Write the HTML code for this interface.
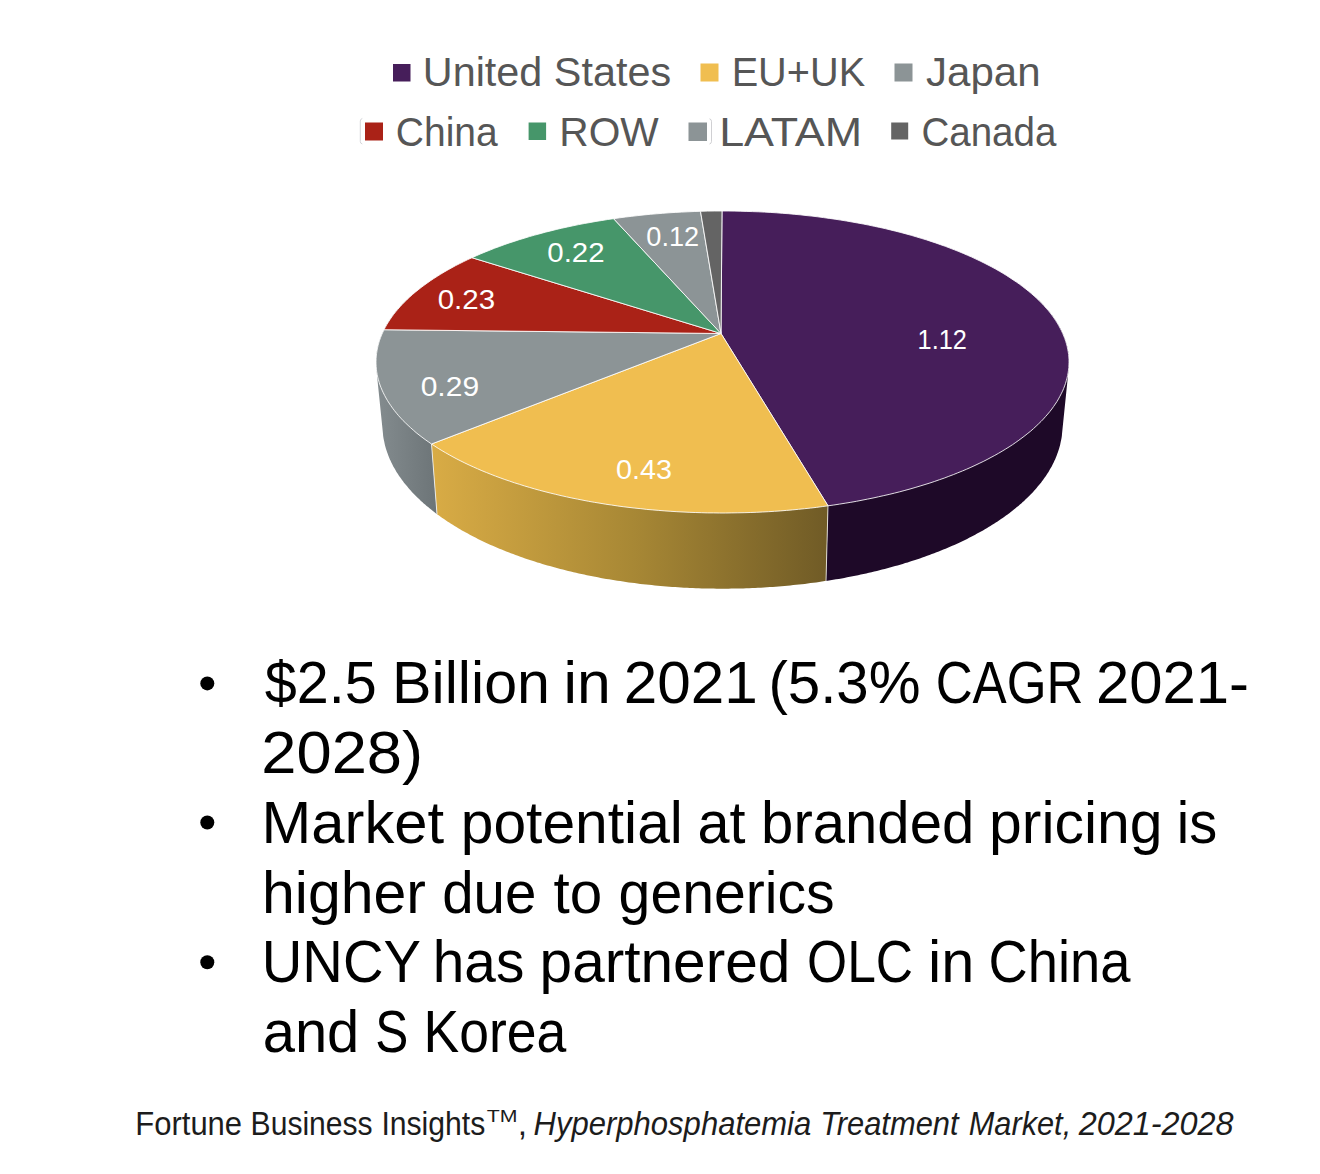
<!DOCTYPE html>
<html><head><meta charset="utf-8"><title>Hyperphosphatemia Treatment Market</title>
<style>html,body{margin:0;padding:0;background:#fff}svg{display:block}text{font-family:"Liberation Sans",sans-serif}</style></head>
<body><svg width="1320" height="1174" viewBox="0 0 1320 1174">
<defs>
<linearGradient id="gEU" gradientUnits="userSpaceOnUse" x1="435" y1="0" x2="828" y2="0"><stop offset="0" stop-color="#d8ab45"/><stop offset=".5" stop-color="#a88835"/><stop offset="1" stop-color="#705b26"/></linearGradient>
<linearGradient id="gJP" gradientUnits="userSpaceOnUse" x1="376" y1="0" x2="438" y2="0"><stop offset="0" stop-color="#848c8f"/><stop offset="1" stop-color="#6c7477"/></linearGradient>
</defs>
<rect width="1320" height="1174" fill="#fff"/>
<rect x="393.0" y="64.0" width="17.5" height="17.5" fill="#461e5a"/>
<rect x="700.5" y="63.5" width="18.0" height="18.0" fill="#f0be50"/>
<rect x="894.5" y="63.5" width="18.0" height="18.0" fill="#8c9496"/>
<rect x="365.0" y="122.5" width="18.0" height="18.0" fill="#aa2217"/>
<rect x="528.6" y="122.5" width="17.5" height="17.5" fill="#46966a"/>
<rect x="688.5" y="122.5" width="18.5" height="18.5" fill="#8c9496"/>
<rect x="891.2" y="122.5" width="17.0" height="17.0" fill="#646464"/>
<path d="M362.3 118.5 Q360.3 119 360.3 121 V141.5 Q360.3 143.5 362.3 144" fill="none" stroke="#c9ccd0" stroke-width=".8"/>
<path d="M709.5 118.8 Q711.5 119.3 711.5 121.3 V141.5 Q711.5 143.5 709.5 144" fill="none" stroke="#c4c4c8" stroke-width=".8"/>
<clipPath id="cUS"><polygon points="833.4,300 1320,300 1320,700 822.9,700"/></clipPath>
<clipPath id="cEU"><polygon points="420.3,300 833.4,300 822.9,700 451.4,700"/></clipPath>
<clipPath id="cJP"><polygon points="0,300 420.3,300 451.4,700 0,700"/></clipPath>
<polygon points="376.0,362.0 376.0,360.7 376.1,359.4 376.1,358.0 376.2,356.7 376.3,355.4 376.5,354.1 376.6,352.8 376.8,351.5 377.1,350.2 377.3,348.8 377.6,347.5 377.9,346.2 378.2,344.9 378.6,343.6 379.0,342.3 379.4,341.0 379.8,339.7 380.3,338.4 380.8,337.1 381.3,335.8 381.8,334.5 382.4,333.2 383.0,331.9 383.6,330.6 384.2,329.3 384.9,328.0 385.6,326.7 386.3,325.5 387.0,324.2 387.8,322.9 388.6,321.6 389.4,320.4 390.3,319.1 391.1,317.9 392.0,316.6 393.0,315.3 393.9,314.1 394.9,312.8 395.9,311.6 396.9,310.4 397.9,309.1 399.0,307.9 400.1,306.7 401.2,305.4 402.4,304.2 403.5,303.0 404.7,301.8 406.0,300.6 407.2,299.4 408.5,298.2 409.8,297.0 411.1,295.8 412.4,294.6 413.8,293.4 415.2,292.3 416.6,291.1 418.0,289.9 419.4,288.8 420.9,287.6 422.4,286.5 423.9,285.4 425.5,284.2 427.1,283.1 428.7,282.0 430.3,280.9 431.9,279.8 433.6,278.7 435.2,277.6 436.9,276.5 438.7,275.4 440.4,274.3 442.2,273.2 444.0,272.2 445.8,271.1 447.6,270.1 449.5,269.0 451.3,268.0 453.2,267.0 455.1,266.0 457.1,264.9 459.0,263.9 461.0,262.9 463.0,261.9 465.0,261.0 467.0,260.0 469.1,259.0 471.2,258.1 473.2,257.1 475.4,256.2 477.5,255.2 479.6,254.3 481.8,253.4 484.0,252.5 486.2,251.6 488.4,250.7 490.6,249.8 492.9,248.9 495.2,248.0 497.5,247.2 499.8,246.3 502.1,245.5 504.4,244.7 506.8,243.8 509.2,243.0 511.6,242.2 514.0,241.4 516.4,240.6 518.8,239.8 521.3,239.1 523.8,238.3 526.2,237.6 528.7,236.8 531.3,236.1 533.8,235.4 536.3,234.6 538.9,233.9 541.5,233.3 544.0,232.6 546.6,231.9 549.2,231.2 551.9,230.6 554.5,229.9 557.2,229.3 559.8,228.7 562.5,228.1 565.2,227.5 567.9,226.9 570.6,226.3 573.3,225.7 576.1,225.1 578.8,224.6 581.6,224.1 584.3,223.5 587.1,223.0 589.9,222.5 592.7,222.0 595.5,221.5 598.3,221.0 601.2,220.6 604.0,220.1 606.8,219.7 609.7,219.2 612.6,218.8 615.4,218.4 618.3,218.0 621.2,217.6 624.1,217.2 627.0,216.8 629.9,216.5 632.8,216.1 635.7,215.8 638.7,215.5 641.6,215.2 644.6,214.9 647.5,214.6 650.5,214.3 653.4,214.0 656.4,213.8 659.4,213.5 662.3,213.3 665.3,213.1 668.3,212.9 671.3,212.7 674.3,212.5 677.3,212.3 680.3,212.1 683.3,212.0 686.3,211.8 689.3,211.7 692.3,211.6 695.3,211.5 698.3,211.4 701.3,211.3 704.4,211.2 707.4,211.1 710.4,211.1 713.4,211.1 716.5,211.0 719.5,211.0 722.5,211.0 725.5,211.0 728.5,211.0 731.6,211.1 734.6,211.1 737.6,211.1 740.6,211.2 743.7,211.3 746.7,211.4 749.7,211.5 752.7,211.6 755.7,211.7 758.7,211.8 761.7,212.0 764.7,212.1 767.7,212.3 770.7,212.5 773.7,212.7 776.7,212.9 779.7,213.1 782.7,213.3 785.6,213.5 788.6,213.8 791.6,214.0 794.5,214.3 797.5,214.6 800.4,214.9 803.4,215.2 806.3,215.5 809.3,215.8 812.2,216.1 815.1,216.5 818.0,216.8 820.9,217.2 823.8,217.6 826.7,218.0 829.6,218.4 832.4,218.8 835.3,219.2 838.2,219.7 841.0,220.1 843.8,220.6 846.7,221.0 849.5,221.5 852.3,222.0 855.1,222.5 857.9,223.0 860.7,223.5 863.4,224.1 866.2,224.6 868.9,225.1 871.7,225.7 874.4,226.3 877.1,226.9 879.8,227.5 882.5,228.1 885.2,228.7 887.8,229.3 890.5,229.9 893.1,230.6 895.8,231.2 898.4,231.9 901.0,232.6 903.5,233.3 906.1,233.9 908.7,234.6 911.2,235.4 913.7,236.1 916.3,236.8 918.8,237.6 921.2,238.3 923.7,239.1 926.2,239.8 928.6,240.6 931.0,241.4 933.4,242.2 935.8,243.0 938.2,243.8 940.6,244.7 942.9,245.5 945.2,246.3 947.5,247.2 949.8,248.0 952.1,248.9 954.4,249.8 956.6,250.7 958.8,251.6 961.0,252.5 963.2,253.4 965.4,254.3 967.5,255.2 969.6,256.2 971.8,257.1 973.8,258.1 975.9,259.0 978.0,260.0 980.0,261.0 982.0,261.9 984.0,262.9 986.0,263.9 987.9,264.9 989.9,266.0 991.8,267.0 993.7,268.0 995.5,269.0 997.4,270.1 999.2,271.1 1001.0,272.2 1002.8,273.2 1004.6,274.3 1006.3,275.4 1008.1,276.5 1009.8,277.6 1011.4,278.7 1013.1,279.8 1014.7,280.9 1016.3,282.0 1017.9,283.1 1019.5,284.2 1021.1,285.4 1022.6,286.5 1024.1,287.6 1025.6,288.8 1027.0,289.9 1028.4,291.1 1029.8,292.3 1031.2,293.4 1032.6,294.6 1033.9,295.8 1035.2,297.0 1036.5,298.2 1037.8,299.4 1039.0,300.6 1040.3,301.8 1041.5,303.0 1042.6,304.2 1043.8,305.4 1044.9,306.7 1046.0,307.9 1047.1,309.1 1048.1,310.4 1049.1,311.6 1050.1,312.8 1051.1,314.1 1052.0,315.3 1053.0,316.6 1053.9,317.9 1054.7,319.1 1055.6,320.4 1056.4,321.6 1057.2,322.9 1058.0,324.2 1058.7,325.5 1059.4,326.7 1060.1,328.0 1060.8,329.3 1061.4,330.6 1062.0,331.9 1062.6,333.2 1063.2,334.5 1063.7,335.8 1064.2,337.1 1064.7,338.4 1065.2,339.7 1065.6,341.0 1066.0,342.3 1066.4,343.6 1066.8,344.9 1067.1,346.2 1067.4,347.5 1067.7,348.8 1067.9,350.2 1068.2,351.5 1068.4,352.8 1068.5,354.1 1068.7,355.4 1068.8,356.7 1068.9,358.0 1068.9,359.4 1069.0,360.7 1069.0,362.0 1069.0,362.0 1069.0,363.3 1068.9,364.6 1068.9,366.0 1068.8,367.3 1068.7,368.6 1062.0,434.0 1061.9,435.5 1061.7,436.9 1061.5,438.3 1061.2,439.7 1060.9,441.1 1060.6,442.6 1060.3,444.0 1060.0,445.4 1059.6,446.8 1059.2,448.2 1058.8,449.6 1058.3,451.0 1057.8,452.4 1057.3,453.8 1056.8,455.2 1056.3,456.6 1055.7,458.0 1055.1,459.4 1054.4,460.8 1053.8,462.2 1053.1,463.6 1052.4,465.0 1051.7,466.4 1050.9,467.7 1050.1,469.1 1049.3,470.5 1048.5,471.9 1047.6,473.2 1046.8,474.6 1045.9,475.9 1044.9,477.3 1044.0,478.6 1043.0,480.0 1042.0,481.3 1041.0,482.7 1039.9,484.0 1038.8,485.3 1037.7,486.6 1036.6,488.0 1035.5,489.3 1034.3,490.6 1033.1,491.9 1031.9,493.2 1030.6,494.5 1029.4,495.8 1028.1,497.0 1026.8,498.3 1025.4,499.6 1024.1,500.9 1022.7,502.1 1021.3,503.4 1019.9,504.6 1018.4,505.9 1016.9,507.1 1015.5,508.3 1013.9,509.6 1012.4,510.8 1010.8,512.0 1009.3,513.2 1007.6,514.4 1006.0,515.6 1004.4,516.8 1002.7,517.9 1001.0,519.1 999.3,520.3 997.6,521.4 995.8,522.6 994.0,523.7 992.2,524.8 990.4,526.0 988.6,527.1 986.7,528.2 984.9,529.3 983.0,530.4 981.0,531.5 979.1,532.6 977.1,533.6 975.2,534.7 973.2,535.8 971.2,536.8 969.1,537.8 967.1,538.9 965.0,539.9 962.9,540.9 960.8,541.9 958.7,542.9 956.5,543.9 954.4,544.9 952.2,545.8 950.0,546.8 947.8,547.7 945.6,548.7 943.3,549.6 941.0,550.5 938.8,551.4 936.5,552.3 934.2,553.2 931.8,554.1 929.5,555.0 927.1,555.8 924.7,556.7 922.3,557.5 919.9,558.4 917.5,559.2 915.1,560.0 912.6,560.8 910.2,561.6 907.7,562.4 905.2,563.1 902.7,563.9 900.1,564.7 897.6,565.4 895.1,566.1 892.5,566.8 889.9,567.5 887.3,568.2 884.7,568.9 882.1,569.6 879.5,570.3 876.9,570.9 874.2,571.6 871.5,572.2 868.9,572.8 866.2,573.4 863.5,574.0 860.8,574.6 858.1,575.2 855.3,575.7 852.6,576.3 849.9,576.8 847.1,577.3 844.3,577.9 841.6,578.4 838.8,578.9 836.0,579.3 833.2,579.8 830.4,580.3 827.6,580.7 824.7,581.1 821.9,581.6 819.1,582.0 816.2,582.4 813.4,582.8 810.5,583.1 807.6,583.5 804.8,583.9 801.9,584.2 799.0,584.5 796.1,584.8 793.2,585.1 790.3,585.4 787.4,585.7 784.5,586.0 781.5,586.2 778.6,586.5 775.7,586.7 772.8,586.9 769.8,587.1 766.9,587.3 763.9,587.5 761.0,587.7 758.0,587.8 755.1,587.9 752.1,588.1 749.2,588.2 746.2,588.3 743.3,588.4 740.3,588.5 737.3,588.5 734.4,588.6 731.4,588.6 728.4,588.7 725.5,588.7 722.5,588.7 719.5,588.7 716.6,588.7 713.6,588.6 710.6,588.6 707.7,588.5 704.7,588.5 701.7,588.4 698.8,588.3 695.8,588.2 692.9,588.1 689.9,587.9 687.0,587.8 684.0,587.7 681.1,587.5 678.1,587.3 675.2,587.1 672.2,586.9 669.3,586.7 666.4,586.5 663.5,586.2 660.5,586.0 657.6,585.7 654.7,585.4 651.8,585.1 648.9,584.8 646.0,584.5 643.1,584.2 640.2,583.9 637.4,583.5 634.5,583.1 631.6,582.8 628.8,582.4 625.9,582.0 623.1,581.6 620.3,581.1 617.4,580.7 614.6,580.3 611.8,579.8 609.0,579.3 606.2,578.9 603.4,578.4 600.7,577.9 597.9,577.3 595.1,576.8 592.4,576.3 589.7,575.7 586.9,575.2 584.2,574.6 581.5,574.0 578.8,573.4 576.1,572.8 573.5,572.2 570.8,571.6 568.1,570.9 565.5,570.3 562.9,569.6 560.3,568.9 557.7,568.2 555.1,567.5 552.5,566.8 549.9,566.1 547.4,565.4 544.9,564.7 542.3,563.9 539.8,563.1 537.3,562.4 534.8,561.6 532.4,560.8 529.9,560.0 527.5,559.2 525.1,558.4 522.7,557.5 520.3,556.7 517.9,555.8 515.5,555.0 513.2,554.1 510.8,553.2 508.5,552.3 506.2,551.4 504.0,550.5 501.7,549.6 499.4,548.7 497.2,547.7 495.0,546.8 492.8,545.8 490.6,544.9 488.5,543.9 486.3,542.9 484.2,541.9 482.1,540.9 480.0,539.9 477.9,538.9 475.9,537.8 473.8,536.8 471.8,535.8 469.8,534.7 467.9,533.6 465.9,532.6 464.0,531.5 462.0,530.4 460.1,529.3 458.3,528.2 456.4,527.1 454.6,526.0 452.8,524.8 451.0,523.7 449.2,522.6 447.4,521.4 445.7,520.3 444.0,519.1 442.3,517.9 440.6,516.8 439.0,515.6 437.4,514.4 435.7,513.2 434.2,512.0 432.6,510.8 431.1,509.6 429.5,508.3 428.1,507.1 426.6,505.9 425.1,504.6 423.7,503.4 422.3,502.1 420.9,500.9 419.6,499.6 418.2,498.3 416.9,497.0 415.6,495.8 414.4,494.5 413.1,493.2 411.9,491.9 410.7,490.6 409.5,489.3 408.4,488.0 407.3,486.6 406.2,485.3 405.1,484.0 404.0,482.7 403.0,481.3 402.0,480.0 401.0,478.6 400.1,477.3 399.1,475.9 398.2,474.6 397.4,473.2 396.5,471.9 395.7,470.5 394.9,469.1 394.1,467.7 393.3,466.4 392.6,465.0 391.9,463.6 391.2,462.2 390.6,460.8 389.9,459.4 389.3,458.0 388.7,456.6 388.2,455.2 387.7,453.8 387.2,452.4 386.7,451.0 386.2,449.6 385.8,448.2 385.4,446.8 385.0,445.4 384.7,444.0 384.4,442.6 384.1,441.1 383.8,439.7 383.5,438.3 383.3,436.9 383.1,435.5 383.0,434.0 376.3,368.6 376.2,367.3 376.1,366.0 376.1,364.6 376.0,363.3" fill="#1e0928" clip-path="url(#cUS)"/>
<polygon points="376.0,362.0 376.0,360.7 376.1,359.4 376.1,358.0 376.2,356.7 376.3,355.4 376.5,354.1 376.6,352.8 376.8,351.5 377.1,350.2 377.3,348.8 377.6,347.5 377.9,346.2 378.2,344.9 378.6,343.6 379.0,342.3 379.4,341.0 379.8,339.7 380.3,338.4 380.8,337.1 381.3,335.8 381.8,334.5 382.4,333.2 383.0,331.9 383.6,330.6 384.2,329.3 384.9,328.0 385.6,326.7 386.3,325.5 387.0,324.2 387.8,322.9 388.6,321.6 389.4,320.4 390.3,319.1 391.1,317.9 392.0,316.6 393.0,315.3 393.9,314.1 394.9,312.8 395.9,311.6 396.9,310.4 397.9,309.1 399.0,307.9 400.1,306.7 401.2,305.4 402.4,304.2 403.5,303.0 404.7,301.8 406.0,300.6 407.2,299.4 408.5,298.2 409.8,297.0 411.1,295.8 412.4,294.6 413.8,293.4 415.2,292.3 416.6,291.1 418.0,289.9 419.4,288.8 420.9,287.6 422.4,286.5 423.9,285.4 425.5,284.2 427.1,283.1 428.7,282.0 430.3,280.9 431.9,279.8 433.6,278.7 435.2,277.6 436.9,276.5 438.7,275.4 440.4,274.3 442.2,273.2 444.0,272.2 445.8,271.1 447.6,270.1 449.5,269.0 451.3,268.0 453.2,267.0 455.1,266.0 457.1,264.9 459.0,263.9 461.0,262.9 463.0,261.9 465.0,261.0 467.0,260.0 469.1,259.0 471.2,258.1 473.2,257.1 475.4,256.2 477.5,255.2 479.6,254.3 481.8,253.4 484.0,252.5 486.2,251.6 488.4,250.7 490.6,249.8 492.9,248.9 495.2,248.0 497.5,247.2 499.8,246.3 502.1,245.5 504.4,244.7 506.8,243.8 509.2,243.0 511.6,242.2 514.0,241.4 516.4,240.6 518.8,239.8 521.3,239.1 523.8,238.3 526.2,237.6 528.7,236.8 531.3,236.1 533.8,235.4 536.3,234.6 538.9,233.9 541.5,233.3 544.0,232.6 546.6,231.9 549.2,231.2 551.9,230.6 554.5,229.9 557.2,229.3 559.8,228.7 562.5,228.1 565.2,227.5 567.9,226.9 570.6,226.3 573.3,225.7 576.1,225.1 578.8,224.6 581.6,224.1 584.3,223.5 587.1,223.0 589.9,222.5 592.7,222.0 595.5,221.5 598.3,221.0 601.2,220.6 604.0,220.1 606.8,219.7 609.7,219.2 612.6,218.8 615.4,218.4 618.3,218.0 621.2,217.6 624.1,217.2 627.0,216.8 629.9,216.5 632.8,216.1 635.7,215.8 638.7,215.5 641.6,215.2 644.6,214.9 647.5,214.6 650.5,214.3 653.4,214.0 656.4,213.8 659.4,213.5 662.3,213.3 665.3,213.1 668.3,212.9 671.3,212.7 674.3,212.5 677.3,212.3 680.3,212.1 683.3,212.0 686.3,211.8 689.3,211.7 692.3,211.6 695.3,211.5 698.3,211.4 701.3,211.3 704.4,211.2 707.4,211.1 710.4,211.1 713.4,211.1 716.5,211.0 719.5,211.0 722.5,211.0 725.5,211.0 728.5,211.0 731.6,211.1 734.6,211.1 737.6,211.1 740.6,211.2 743.7,211.3 746.7,211.4 749.7,211.5 752.7,211.6 755.7,211.7 758.7,211.8 761.7,212.0 764.7,212.1 767.7,212.3 770.7,212.5 773.7,212.7 776.7,212.9 779.7,213.1 782.7,213.3 785.6,213.5 788.6,213.8 791.6,214.0 794.5,214.3 797.5,214.6 800.4,214.9 803.4,215.2 806.3,215.5 809.3,215.8 812.2,216.1 815.1,216.5 818.0,216.8 820.9,217.2 823.8,217.6 826.7,218.0 829.6,218.4 832.4,218.8 835.3,219.2 838.2,219.7 841.0,220.1 843.8,220.6 846.7,221.0 849.5,221.5 852.3,222.0 855.1,222.5 857.9,223.0 860.7,223.5 863.4,224.1 866.2,224.6 868.9,225.1 871.7,225.7 874.4,226.3 877.1,226.9 879.8,227.5 882.5,228.1 885.2,228.7 887.8,229.3 890.5,229.9 893.1,230.6 895.8,231.2 898.4,231.9 901.0,232.6 903.5,233.3 906.1,233.9 908.7,234.6 911.2,235.4 913.7,236.1 916.3,236.8 918.8,237.6 921.2,238.3 923.7,239.1 926.2,239.8 928.6,240.6 931.0,241.4 933.4,242.2 935.8,243.0 938.2,243.8 940.6,244.7 942.9,245.5 945.2,246.3 947.5,247.2 949.8,248.0 952.1,248.9 954.4,249.8 956.6,250.7 958.8,251.6 961.0,252.5 963.2,253.4 965.4,254.3 967.5,255.2 969.6,256.2 971.8,257.1 973.8,258.1 975.9,259.0 978.0,260.0 980.0,261.0 982.0,261.9 984.0,262.9 986.0,263.9 987.9,264.9 989.9,266.0 991.8,267.0 993.7,268.0 995.5,269.0 997.4,270.1 999.2,271.1 1001.0,272.2 1002.8,273.2 1004.6,274.3 1006.3,275.4 1008.1,276.5 1009.8,277.6 1011.4,278.7 1013.1,279.8 1014.7,280.9 1016.3,282.0 1017.9,283.1 1019.5,284.2 1021.1,285.4 1022.6,286.5 1024.1,287.6 1025.6,288.8 1027.0,289.9 1028.4,291.1 1029.8,292.3 1031.2,293.4 1032.6,294.6 1033.9,295.8 1035.2,297.0 1036.5,298.2 1037.8,299.4 1039.0,300.6 1040.3,301.8 1041.5,303.0 1042.6,304.2 1043.8,305.4 1044.9,306.7 1046.0,307.9 1047.1,309.1 1048.1,310.4 1049.1,311.6 1050.1,312.8 1051.1,314.1 1052.0,315.3 1053.0,316.6 1053.9,317.9 1054.7,319.1 1055.6,320.4 1056.4,321.6 1057.2,322.9 1058.0,324.2 1058.7,325.5 1059.4,326.7 1060.1,328.0 1060.8,329.3 1061.4,330.6 1062.0,331.9 1062.6,333.2 1063.2,334.5 1063.7,335.8 1064.2,337.1 1064.7,338.4 1065.2,339.7 1065.6,341.0 1066.0,342.3 1066.4,343.6 1066.8,344.9 1067.1,346.2 1067.4,347.5 1067.7,348.8 1067.9,350.2 1068.2,351.5 1068.4,352.8 1068.5,354.1 1068.7,355.4 1068.8,356.7 1068.9,358.0 1068.9,359.4 1069.0,360.7 1069.0,362.0 1069.0,362.0 1069.0,363.3 1068.9,364.6 1068.9,366.0 1068.8,367.3 1068.7,368.6 1062.0,434.0 1061.9,435.5 1061.7,436.9 1061.5,438.3 1061.2,439.7 1060.9,441.1 1060.6,442.6 1060.3,444.0 1060.0,445.4 1059.6,446.8 1059.2,448.2 1058.8,449.6 1058.3,451.0 1057.8,452.4 1057.3,453.8 1056.8,455.2 1056.3,456.6 1055.7,458.0 1055.1,459.4 1054.4,460.8 1053.8,462.2 1053.1,463.6 1052.4,465.0 1051.7,466.4 1050.9,467.7 1050.1,469.1 1049.3,470.5 1048.5,471.9 1047.6,473.2 1046.8,474.6 1045.9,475.9 1044.9,477.3 1044.0,478.6 1043.0,480.0 1042.0,481.3 1041.0,482.7 1039.9,484.0 1038.8,485.3 1037.7,486.6 1036.6,488.0 1035.5,489.3 1034.3,490.6 1033.1,491.9 1031.9,493.2 1030.6,494.5 1029.4,495.8 1028.1,497.0 1026.8,498.3 1025.4,499.6 1024.1,500.9 1022.7,502.1 1021.3,503.4 1019.9,504.6 1018.4,505.9 1016.9,507.1 1015.5,508.3 1013.9,509.6 1012.4,510.8 1010.8,512.0 1009.3,513.2 1007.6,514.4 1006.0,515.6 1004.4,516.8 1002.7,517.9 1001.0,519.1 999.3,520.3 997.6,521.4 995.8,522.6 994.0,523.7 992.2,524.8 990.4,526.0 988.6,527.1 986.7,528.2 984.9,529.3 983.0,530.4 981.0,531.5 979.1,532.6 977.1,533.6 975.2,534.7 973.2,535.8 971.2,536.8 969.1,537.8 967.1,538.9 965.0,539.9 962.9,540.9 960.8,541.9 958.7,542.9 956.5,543.9 954.4,544.9 952.2,545.8 950.0,546.8 947.8,547.7 945.6,548.7 943.3,549.6 941.0,550.5 938.8,551.4 936.5,552.3 934.2,553.2 931.8,554.1 929.5,555.0 927.1,555.8 924.7,556.7 922.3,557.5 919.9,558.4 917.5,559.2 915.1,560.0 912.6,560.8 910.2,561.6 907.7,562.4 905.2,563.1 902.7,563.9 900.1,564.7 897.6,565.4 895.1,566.1 892.5,566.8 889.9,567.5 887.3,568.2 884.7,568.9 882.1,569.6 879.5,570.3 876.9,570.9 874.2,571.6 871.5,572.2 868.9,572.8 866.2,573.4 863.5,574.0 860.8,574.6 858.1,575.2 855.3,575.7 852.6,576.3 849.9,576.8 847.1,577.3 844.3,577.9 841.6,578.4 838.8,578.9 836.0,579.3 833.2,579.8 830.4,580.3 827.6,580.7 824.7,581.1 821.9,581.6 819.1,582.0 816.2,582.4 813.4,582.8 810.5,583.1 807.6,583.5 804.8,583.9 801.9,584.2 799.0,584.5 796.1,584.8 793.2,585.1 790.3,585.4 787.4,585.7 784.5,586.0 781.5,586.2 778.6,586.5 775.7,586.7 772.8,586.9 769.8,587.1 766.9,587.3 763.9,587.5 761.0,587.7 758.0,587.8 755.1,587.9 752.1,588.1 749.2,588.2 746.2,588.3 743.3,588.4 740.3,588.5 737.3,588.5 734.4,588.6 731.4,588.6 728.4,588.7 725.5,588.7 722.5,588.7 719.5,588.7 716.6,588.7 713.6,588.6 710.6,588.6 707.7,588.5 704.7,588.5 701.7,588.4 698.8,588.3 695.8,588.2 692.9,588.1 689.9,587.9 687.0,587.8 684.0,587.7 681.1,587.5 678.1,587.3 675.2,587.1 672.2,586.9 669.3,586.7 666.4,586.5 663.5,586.2 660.5,586.0 657.6,585.7 654.7,585.4 651.8,585.1 648.9,584.8 646.0,584.5 643.1,584.2 640.2,583.9 637.4,583.5 634.5,583.1 631.6,582.8 628.8,582.4 625.9,582.0 623.1,581.6 620.3,581.1 617.4,580.7 614.6,580.3 611.8,579.8 609.0,579.3 606.2,578.9 603.4,578.4 600.7,577.9 597.9,577.3 595.1,576.8 592.4,576.3 589.7,575.7 586.9,575.2 584.2,574.6 581.5,574.0 578.8,573.4 576.1,572.8 573.5,572.2 570.8,571.6 568.1,570.9 565.5,570.3 562.9,569.6 560.3,568.9 557.7,568.2 555.1,567.5 552.5,566.8 549.9,566.1 547.4,565.4 544.9,564.7 542.3,563.9 539.8,563.1 537.3,562.4 534.8,561.6 532.4,560.8 529.9,560.0 527.5,559.2 525.1,558.4 522.7,557.5 520.3,556.7 517.9,555.8 515.5,555.0 513.2,554.1 510.8,553.2 508.5,552.3 506.2,551.4 504.0,550.5 501.7,549.6 499.4,548.7 497.2,547.7 495.0,546.8 492.8,545.8 490.6,544.9 488.5,543.9 486.3,542.9 484.2,541.9 482.1,540.9 480.0,539.9 477.9,538.9 475.9,537.8 473.8,536.8 471.8,535.8 469.8,534.7 467.9,533.6 465.9,532.6 464.0,531.5 462.0,530.4 460.1,529.3 458.3,528.2 456.4,527.1 454.6,526.0 452.8,524.8 451.0,523.7 449.2,522.6 447.4,521.4 445.7,520.3 444.0,519.1 442.3,517.9 440.6,516.8 439.0,515.6 437.4,514.4 435.7,513.2 434.2,512.0 432.6,510.8 431.1,509.6 429.5,508.3 428.1,507.1 426.6,505.9 425.1,504.6 423.7,503.4 422.3,502.1 420.9,500.9 419.6,499.6 418.2,498.3 416.9,497.0 415.6,495.8 414.4,494.5 413.1,493.2 411.9,491.9 410.7,490.6 409.5,489.3 408.4,488.0 407.3,486.6 406.2,485.3 405.1,484.0 404.0,482.7 403.0,481.3 402.0,480.0 401.0,478.6 400.1,477.3 399.1,475.9 398.2,474.6 397.4,473.2 396.5,471.9 395.7,470.5 394.9,469.1 394.1,467.7 393.3,466.4 392.6,465.0 391.9,463.6 391.2,462.2 390.6,460.8 389.9,459.4 389.3,458.0 388.7,456.6 388.2,455.2 387.7,453.8 387.2,452.4 386.7,451.0 386.2,449.6 385.8,448.2 385.4,446.8 385.0,445.4 384.7,444.0 384.4,442.6 384.1,441.1 383.8,439.7 383.5,438.3 383.3,436.9 383.1,435.5 383.0,434.0 376.3,368.6 376.2,367.3 376.1,366.0 376.1,364.6 376.0,363.3" fill="url(#gEU)" clip-path="url(#cEU)"/>
<polygon points="376.0,362.0 376.0,360.7 376.1,359.4 376.1,358.0 376.2,356.7 376.3,355.4 376.5,354.1 376.6,352.8 376.8,351.5 377.1,350.2 377.3,348.8 377.6,347.5 377.9,346.2 378.2,344.9 378.6,343.6 379.0,342.3 379.4,341.0 379.8,339.7 380.3,338.4 380.8,337.1 381.3,335.8 381.8,334.5 382.4,333.2 383.0,331.9 383.6,330.6 384.2,329.3 384.9,328.0 385.6,326.7 386.3,325.5 387.0,324.2 387.8,322.9 388.6,321.6 389.4,320.4 390.3,319.1 391.1,317.9 392.0,316.6 393.0,315.3 393.9,314.1 394.9,312.8 395.9,311.6 396.9,310.4 397.9,309.1 399.0,307.9 400.1,306.7 401.2,305.4 402.4,304.2 403.5,303.0 404.7,301.8 406.0,300.6 407.2,299.4 408.5,298.2 409.8,297.0 411.1,295.8 412.4,294.6 413.8,293.4 415.2,292.3 416.6,291.1 418.0,289.9 419.4,288.8 420.9,287.6 422.4,286.5 423.9,285.4 425.5,284.2 427.1,283.1 428.7,282.0 430.3,280.9 431.9,279.8 433.6,278.7 435.2,277.6 436.9,276.5 438.7,275.4 440.4,274.3 442.2,273.2 444.0,272.2 445.8,271.1 447.6,270.1 449.5,269.0 451.3,268.0 453.2,267.0 455.1,266.0 457.1,264.9 459.0,263.9 461.0,262.9 463.0,261.9 465.0,261.0 467.0,260.0 469.1,259.0 471.2,258.1 473.2,257.1 475.4,256.2 477.5,255.2 479.6,254.3 481.8,253.4 484.0,252.5 486.2,251.6 488.4,250.7 490.6,249.8 492.9,248.9 495.2,248.0 497.5,247.2 499.8,246.3 502.1,245.5 504.4,244.7 506.8,243.8 509.2,243.0 511.6,242.2 514.0,241.4 516.4,240.6 518.8,239.8 521.3,239.1 523.8,238.3 526.2,237.6 528.7,236.8 531.3,236.1 533.8,235.4 536.3,234.6 538.9,233.9 541.5,233.3 544.0,232.6 546.6,231.9 549.2,231.2 551.9,230.6 554.5,229.9 557.2,229.3 559.8,228.7 562.5,228.1 565.2,227.5 567.9,226.9 570.6,226.3 573.3,225.7 576.1,225.1 578.8,224.6 581.6,224.1 584.3,223.5 587.1,223.0 589.9,222.5 592.7,222.0 595.5,221.5 598.3,221.0 601.2,220.6 604.0,220.1 606.8,219.7 609.7,219.2 612.6,218.8 615.4,218.4 618.3,218.0 621.2,217.6 624.1,217.2 627.0,216.8 629.9,216.5 632.8,216.1 635.7,215.8 638.7,215.5 641.6,215.2 644.6,214.9 647.5,214.6 650.5,214.3 653.4,214.0 656.4,213.8 659.4,213.5 662.3,213.3 665.3,213.1 668.3,212.9 671.3,212.7 674.3,212.5 677.3,212.3 680.3,212.1 683.3,212.0 686.3,211.8 689.3,211.7 692.3,211.6 695.3,211.5 698.3,211.4 701.3,211.3 704.4,211.2 707.4,211.1 710.4,211.1 713.4,211.1 716.5,211.0 719.5,211.0 722.5,211.0 725.5,211.0 728.5,211.0 731.6,211.1 734.6,211.1 737.6,211.1 740.6,211.2 743.7,211.3 746.7,211.4 749.7,211.5 752.7,211.6 755.7,211.7 758.7,211.8 761.7,212.0 764.7,212.1 767.7,212.3 770.7,212.5 773.7,212.7 776.7,212.9 779.7,213.1 782.7,213.3 785.6,213.5 788.6,213.8 791.6,214.0 794.5,214.3 797.5,214.6 800.4,214.9 803.4,215.2 806.3,215.5 809.3,215.8 812.2,216.1 815.1,216.5 818.0,216.8 820.9,217.2 823.8,217.6 826.7,218.0 829.6,218.4 832.4,218.8 835.3,219.2 838.2,219.7 841.0,220.1 843.8,220.6 846.7,221.0 849.5,221.5 852.3,222.0 855.1,222.5 857.9,223.0 860.7,223.5 863.4,224.1 866.2,224.6 868.9,225.1 871.7,225.7 874.4,226.3 877.1,226.9 879.8,227.5 882.5,228.1 885.2,228.7 887.8,229.3 890.5,229.9 893.1,230.6 895.8,231.2 898.4,231.9 901.0,232.6 903.5,233.3 906.1,233.9 908.7,234.6 911.2,235.4 913.7,236.1 916.3,236.8 918.8,237.6 921.2,238.3 923.7,239.1 926.2,239.8 928.6,240.6 931.0,241.4 933.4,242.2 935.8,243.0 938.2,243.8 940.6,244.7 942.9,245.5 945.2,246.3 947.5,247.2 949.8,248.0 952.1,248.9 954.4,249.8 956.6,250.7 958.8,251.6 961.0,252.5 963.2,253.4 965.4,254.3 967.5,255.2 969.6,256.2 971.8,257.1 973.8,258.1 975.9,259.0 978.0,260.0 980.0,261.0 982.0,261.9 984.0,262.9 986.0,263.9 987.9,264.9 989.9,266.0 991.8,267.0 993.7,268.0 995.5,269.0 997.4,270.1 999.2,271.1 1001.0,272.2 1002.8,273.2 1004.6,274.3 1006.3,275.4 1008.1,276.5 1009.8,277.6 1011.4,278.7 1013.1,279.8 1014.7,280.9 1016.3,282.0 1017.9,283.1 1019.5,284.2 1021.1,285.4 1022.6,286.5 1024.1,287.6 1025.6,288.8 1027.0,289.9 1028.4,291.1 1029.8,292.3 1031.2,293.4 1032.6,294.6 1033.9,295.8 1035.2,297.0 1036.5,298.2 1037.8,299.4 1039.0,300.6 1040.3,301.8 1041.5,303.0 1042.6,304.2 1043.8,305.4 1044.9,306.7 1046.0,307.9 1047.1,309.1 1048.1,310.4 1049.1,311.6 1050.1,312.8 1051.1,314.1 1052.0,315.3 1053.0,316.6 1053.9,317.9 1054.7,319.1 1055.6,320.4 1056.4,321.6 1057.2,322.9 1058.0,324.2 1058.7,325.5 1059.4,326.7 1060.1,328.0 1060.8,329.3 1061.4,330.6 1062.0,331.9 1062.6,333.2 1063.2,334.5 1063.7,335.8 1064.2,337.1 1064.7,338.4 1065.2,339.7 1065.6,341.0 1066.0,342.3 1066.4,343.6 1066.8,344.9 1067.1,346.2 1067.4,347.5 1067.7,348.8 1067.9,350.2 1068.2,351.5 1068.4,352.8 1068.5,354.1 1068.7,355.4 1068.8,356.7 1068.9,358.0 1068.9,359.4 1069.0,360.7 1069.0,362.0 1069.0,362.0 1069.0,363.3 1068.9,364.6 1068.9,366.0 1068.8,367.3 1068.7,368.6 1062.0,434.0 1061.9,435.5 1061.7,436.9 1061.5,438.3 1061.2,439.7 1060.9,441.1 1060.6,442.6 1060.3,444.0 1060.0,445.4 1059.6,446.8 1059.2,448.2 1058.8,449.6 1058.3,451.0 1057.8,452.4 1057.3,453.8 1056.8,455.2 1056.3,456.6 1055.7,458.0 1055.1,459.4 1054.4,460.8 1053.8,462.2 1053.1,463.6 1052.4,465.0 1051.7,466.4 1050.9,467.7 1050.1,469.1 1049.3,470.5 1048.5,471.9 1047.6,473.2 1046.8,474.6 1045.9,475.9 1044.9,477.3 1044.0,478.6 1043.0,480.0 1042.0,481.3 1041.0,482.7 1039.9,484.0 1038.8,485.3 1037.7,486.6 1036.6,488.0 1035.5,489.3 1034.3,490.6 1033.1,491.9 1031.9,493.2 1030.6,494.5 1029.4,495.8 1028.1,497.0 1026.8,498.3 1025.4,499.6 1024.1,500.9 1022.7,502.1 1021.3,503.4 1019.9,504.6 1018.4,505.9 1016.9,507.1 1015.5,508.3 1013.9,509.6 1012.4,510.8 1010.8,512.0 1009.3,513.2 1007.6,514.4 1006.0,515.6 1004.4,516.8 1002.7,517.9 1001.0,519.1 999.3,520.3 997.6,521.4 995.8,522.6 994.0,523.7 992.2,524.8 990.4,526.0 988.6,527.1 986.7,528.2 984.9,529.3 983.0,530.4 981.0,531.5 979.1,532.6 977.1,533.6 975.2,534.7 973.2,535.8 971.2,536.8 969.1,537.8 967.1,538.9 965.0,539.9 962.9,540.9 960.8,541.9 958.7,542.9 956.5,543.9 954.4,544.9 952.2,545.8 950.0,546.8 947.8,547.7 945.6,548.7 943.3,549.6 941.0,550.5 938.8,551.4 936.5,552.3 934.2,553.2 931.8,554.1 929.5,555.0 927.1,555.8 924.7,556.7 922.3,557.5 919.9,558.4 917.5,559.2 915.1,560.0 912.6,560.8 910.2,561.6 907.7,562.4 905.2,563.1 902.7,563.9 900.1,564.7 897.6,565.4 895.1,566.1 892.5,566.8 889.9,567.5 887.3,568.2 884.7,568.9 882.1,569.6 879.5,570.3 876.9,570.9 874.2,571.6 871.5,572.2 868.9,572.8 866.2,573.4 863.5,574.0 860.8,574.6 858.1,575.2 855.3,575.7 852.6,576.3 849.9,576.8 847.1,577.3 844.3,577.9 841.6,578.4 838.8,578.9 836.0,579.3 833.2,579.8 830.4,580.3 827.6,580.7 824.7,581.1 821.9,581.6 819.1,582.0 816.2,582.4 813.4,582.8 810.5,583.1 807.6,583.5 804.8,583.9 801.9,584.2 799.0,584.5 796.1,584.8 793.2,585.1 790.3,585.4 787.4,585.7 784.5,586.0 781.5,586.2 778.6,586.5 775.7,586.7 772.8,586.9 769.8,587.1 766.9,587.3 763.9,587.5 761.0,587.7 758.0,587.8 755.1,587.9 752.1,588.1 749.2,588.2 746.2,588.3 743.3,588.4 740.3,588.5 737.3,588.5 734.4,588.6 731.4,588.6 728.4,588.7 725.5,588.7 722.5,588.7 719.5,588.7 716.6,588.7 713.6,588.6 710.6,588.6 707.7,588.5 704.7,588.5 701.7,588.4 698.8,588.3 695.8,588.2 692.9,588.1 689.9,587.9 687.0,587.8 684.0,587.7 681.1,587.5 678.1,587.3 675.2,587.1 672.2,586.9 669.3,586.7 666.4,586.5 663.5,586.2 660.5,586.0 657.6,585.7 654.7,585.4 651.8,585.1 648.9,584.8 646.0,584.5 643.1,584.2 640.2,583.9 637.4,583.5 634.5,583.1 631.6,582.8 628.8,582.4 625.9,582.0 623.1,581.6 620.3,581.1 617.4,580.7 614.6,580.3 611.8,579.8 609.0,579.3 606.2,578.9 603.4,578.4 600.7,577.9 597.9,577.3 595.1,576.8 592.4,576.3 589.7,575.7 586.9,575.2 584.2,574.6 581.5,574.0 578.8,573.4 576.1,572.8 573.5,572.2 570.8,571.6 568.1,570.9 565.5,570.3 562.9,569.6 560.3,568.9 557.7,568.2 555.1,567.5 552.5,566.8 549.9,566.1 547.4,565.4 544.9,564.7 542.3,563.9 539.8,563.1 537.3,562.4 534.8,561.6 532.4,560.8 529.9,560.0 527.5,559.2 525.1,558.4 522.7,557.5 520.3,556.7 517.9,555.8 515.5,555.0 513.2,554.1 510.8,553.2 508.5,552.3 506.2,551.4 504.0,550.5 501.7,549.6 499.4,548.7 497.2,547.7 495.0,546.8 492.8,545.8 490.6,544.9 488.5,543.9 486.3,542.9 484.2,541.9 482.1,540.9 480.0,539.9 477.9,538.9 475.9,537.8 473.8,536.8 471.8,535.8 469.8,534.7 467.9,533.6 465.9,532.6 464.0,531.5 462.0,530.4 460.1,529.3 458.3,528.2 456.4,527.1 454.6,526.0 452.8,524.8 451.0,523.7 449.2,522.6 447.4,521.4 445.7,520.3 444.0,519.1 442.3,517.9 440.6,516.8 439.0,515.6 437.4,514.4 435.7,513.2 434.2,512.0 432.6,510.8 431.1,509.6 429.5,508.3 428.1,507.1 426.6,505.9 425.1,504.6 423.7,503.4 422.3,502.1 420.9,500.9 419.6,499.6 418.2,498.3 416.9,497.0 415.6,495.8 414.4,494.5 413.1,493.2 411.9,491.9 410.7,490.6 409.5,489.3 408.4,488.0 407.3,486.6 406.2,485.3 405.1,484.0 404.0,482.7 403.0,481.3 402.0,480.0 401.0,478.6 400.1,477.3 399.1,475.9 398.2,474.6 397.4,473.2 396.5,471.9 395.7,470.5 394.9,469.1 394.1,467.7 393.3,466.4 392.6,465.0 391.9,463.6 391.2,462.2 390.6,460.8 389.9,459.4 389.3,458.0 388.7,456.6 388.2,455.2 387.7,453.8 387.2,452.4 386.7,451.0 386.2,449.6 385.8,448.2 385.4,446.8 385.0,445.4 384.7,444.0 384.4,442.6 384.1,441.1 383.8,439.7 383.5,438.3 383.3,436.9 383.1,435.5 383.0,434.0 376.3,368.6 376.2,367.3 376.1,366.0 376.1,364.6 376.0,363.3" fill="url(#gJP)" clip-path="url(#cJP)"/>
<line x1="828.0" y1="505.8" x2="826.0" y2="581.0" stroke="#fff" stroke-opacity=".75" stroke-width="1"/>
<line x1="431.5" y1="444.0" x2="437.0" y2="514.1" stroke="#fff" stroke-opacity=".75" stroke-width="1"/>
<polygon points="721.0,333.5 722.0,211.0 728.1,211.0 734.1,211.1 740.2,211.2 746.2,211.4 752.3,211.6 758.3,211.8 764.3,212.1 770.3,212.4 776.3,212.8 782.3,213.3 788.3,213.7 794.2,214.3 800.1,214.8 806.0,215.5 811.9,216.1 817.7,216.8 823.5,217.6 829.3,218.4 835.1,219.2 840.8,220.1 846.5,221.0 852.1,222.0 857.7,223.0 863.3,224.0 868.8,225.1 874.3,226.3 879.7,227.4 885.1,228.6 890.4,229.9 895.7,231.2 900.9,232.5 906.1,233.9 911.2,235.3 916.2,236.8 921.2,238.3 926.2,239.8 931.0,241.4 935.8,243.0 940.6,244.7 945.3,246.3 949.9,248.1 954.4,249.8 958.9,251.6 963.3,253.4 967.6,255.3 971.8,257.1 976.0,259.1 980.1,261.0 984.1,263.0 988.0,265.0 991.9,267.0 995.7,269.1 999.4,271.2 1003.0,273.3 1006.5,275.5 1009.9,277.7 1013.2,279.9 1016.5,282.1 1019.7,284.3 1022.7,286.6 1025.7,288.9 1028.6,291.2 1031.4,293.6 1034.1,295.9 1036.7,298.3 1039.2,300.7 1041.6,303.2 1043.9,305.6 1046.1,308.1 1048.3,310.5 1050.3,313.0 1052.2,315.5 1054.0,318.0 1055.7,320.6 1057.3,323.1 1058.8,325.7 1060.2,328.3 1061.5,330.8 1062.7,333.4 1063.8,336.0 1064.8,338.6 1065.7,341.2 1066.5,343.9 1067.2,346.5 1067.7,349.1 1068.2,351.7 1068.6,354.4 1068.8,357.0 1069.0,359.7 1069.0,362.3 1068.9,364.9 1068.8,367.6 1068.5,370.2 1068.1,372.9 1067.6,375.5 1067.0,378.1 1066.3,380.7 1065.5,383.4 1064.6,386.0 1063.6,388.6 1062.5,391.2 1061.2,393.8 1059.9,396.3 1058.5,398.9 1057.0,401.5 1055.3,404.0 1053.6,406.5 1051.8,409.0 1049.8,411.6 1047.8,414.0 1045.6,416.5 1043.4,419.0 1041.1,421.4 1038.6,423.8 1036.1,426.2 1033.5,428.6 1030.8,431.0 1027.9,433.3 1025.0,435.6 1022.0,437.9 1018.9,440.2 1015.8,442.4 1012.5,444.7 1009.1,446.9 1005.7,449.0 1002.1,451.2 998.5,453.3 994.8,455.4 991.0,457.4 987.1,459.5 983.2,461.5 979.2,463.4 975.0,465.4 970.9,467.3 966.6,469.2 962.3,471.0 957.8,472.8 953.4,474.6 948.8,476.3 944.2,478.1 939.5,479.7 934.7,481.4 929.9,483.0 925.0,484.5 920.1,486.0 915.1,487.5 910.0,489.0 904.9,490.4 899.7,491.8 894.5,493.1 889.2,494.4 883.8,495.6 878.4,496.8 873.0,498.0 867.5,499.1 862.0,500.2 856.4,501.3 850.8,502.3 845.2,503.2 839.5,504.1 833.8,505.0 828.0,505.8" fill="#461e5a" stroke="#fff" stroke-opacity=".85" stroke-width="1" stroke-linejoin="round"/>
<polygon points="721.0,333.5 828.0,505.8 822.2,506.6 816.3,507.4 810.4,508.1 804.5,508.7 798.5,509.3 792.5,509.9 786.5,510.4 780.5,510.9 774.5,511.3 768.4,511.7 762.3,512.0 756.2,512.3 750.2,512.5 744.1,512.7 737.9,512.8 731.8,512.9 725.7,513.0 719.6,513.0 713.5,512.9 707.4,512.9 701.3,512.7 695.2,512.5 689.1,512.3 683.0,512.0 676.9,511.7 670.9,511.3 664.8,510.9 658.8,510.4 652.8,509.9 646.8,509.4 640.9,508.7 634.9,508.1 629.0,507.4 623.1,506.7 617.3,505.9 611.5,505.0 605.7,504.2 600.0,503.2 594.3,502.3 588.6,501.3 583.0,500.2 577.4,499.1 571.9,498.0 566.4,496.8 561.0,495.6 555.6,494.3 550.2,493.0 545.0,491.7 539.7,490.3 534.6,488.9 529.5,487.4 524.4,485.9 519.4,484.3 514.5,482.8 509.6,481.1 504.8,479.5 500.1,477.8 495.5,476.1 490.9,474.3 486.4,472.5 481.9,470.7 477.6,468.8 473.3,466.9 469.1,465.0 464.9,463.0 460.9,461.0 456.9,459.0 453.0,456.9 449.2,454.8 445.5,452.7 441.9,450.6 438.3,448.4 434.9,446.2 431.5,444.0" fill="#f0be50" stroke="#fff" stroke-opacity=".85" stroke-width="1" stroke-linejoin="round"/>
<polygon points="721.0,333.5 431.5,444.0 428.2,441.7 425.1,439.5 422.0,437.2 419.0,434.9 416.1,432.6 413.4,430.2 410.7,427.8 408.1,425.4 405.6,423.0 403.1,420.6 400.8,418.1 398.6,415.7 396.5,413.2 394.5,410.7 392.6,408.2 390.8,405.6 389.1,403.1 387.5,400.6 386.0,398.0 384.6,395.4 383.3,392.8 382.1,390.2 381.0,387.6 380.0,385.0 379.2,382.4 378.4,379.8 377.7,377.1 377.2,374.5 376.7,371.9 376.4,369.2 376.2,366.6 376.0,363.9 376.0,361.3 376.1,358.6 376.3,356.0 376.6,353.3 377.0,350.7 377.5,348.0 378.1,345.4 378.8,342.8 379.6,340.2 380.6,337.5 381.6,334.9 382.8,332.3 384.0,329.7" fill="#8c9496" stroke="#fff" stroke-opacity=".85" stroke-width="1" stroke-linejoin="round"/>
<polygon points="721.0,333.5 384.0,329.7 385.4,327.1 386.8,324.6 388.4,322.0 390.1,319.4 391.8,316.9 393.7,314.3 395.7,311.8 397.8,309.3 400.0,306.8 402.3,304.3 404.7,301.9 407.1,299.4 409.7,297.0 412.4,294.6 415.2,292.2 418.1,289.9 421.0,287.6 424.1,285.3 427.3,283.0 430.5,280.7 433.8,278.5 437.3,276.3 440.8,274.1 444.4,271.9 448.1,269.8 451.9,267.7 455.7,265.6 459.7,263.6 463.7,261.6 467.8,259.6 472.0,257.7" fill="#aa2217" stroke="#fff" stroke-opacity=".85" stroke-width="1" stroke-linejoin="round"/>
<polygon points="721.0,333.5 472.0,257.7 476.4,255.7 480.8,253.8 485.4,251.9 490.0,250.1 494.6,248.2 499.4,246.5 504.2,244.7 509.1,243.0 514.1,241.4 519.2,239.7 524.3,238.2 529.4,236.6 534.7,235.1 540.0,233.7 545.3,232.2 550.7,230.9 556.2,229.5 561.7,228.2 567.3,227.0 572.9,225.8 578.6,224.6 584.3,223.5 590.1,222.5 595.9,221.4 601.8,220.5 607.7,219.5 613.6,218.7" fill="#46966a" stroke="#fff" stroke-opacity=".85" stroke-width="1" stroke-linejoin="round"/>
<polygon points="721.0,333.5 613.6,218.7 619.6,217.8 625.7,217.0 631.8,216.3 637.9,215.6 644.1,214.9 650.3,214.3 656.5,213.8 662.7,213.3 669.0,212.8 675.3,212.4 681.6,212.1 687.9,211.8 694.2,211.5 700.5,211.3" fill="#8c9496" stroke="#fff" stroke-opacity=".85" stroke-width="1" stroke-linejoin="round"/>
<polygon points="721.0,333.5 700.5,211.3 707.7,211.1 714.8,211.0 722.0,211.0" fill="#646464" stroke="#fff" stroke-opacity=".85" stroke-width="1" stroke-linejoin="round"/>
<circle cx="207.3" cy="683.4" r="7" fill="#000"/>
<circle cx="207.3" cy="822.5" r="7" fill="#000"/>
<circle cx="207.3" cy="962.3" r="7" fill="#000"/>
<text transform="translate(264.70 703.00) scale(0.9588 1)" font-size="60" fill="#000">$2.5</text>
<text transform="translate(392.05 703.00) scale(0.9868 1)" font-size="60" fill="#000">Billion</text>
<text transform="translate(563.55 703.00) scale(1.0119 1)" font-size="60" fill="#000">in</text>
<text transform="translate(623.69 703.00) scale(1.0046 1)" font-size="60" fill="#000">2021</text>
<text transform="translate(768.39 703.00) scale(0.9705 1)" font-size="60" fill="#000">(5.3%</text>
<text transform="translate(935.64 703.00) scale(0.8529 1)" font-size="60" fill="#000">CAGR</text>
<text transform="translate(1095.91 703.00) scale(0.9975 1)" font-size="60" fill="#000">2021-</text>
<text transform="translate(261.34 772.50) scale(1.0544 1)" font-size="60" fill="#000">2028)</text>
<text transform="translate(261.52 842.70) scale(0.9956 1)" font-size="60" fill="#000">Market</text>
<text transform="translate(460.76 842.70) scale(0.9795 1)" font-size="60" fill="#000">potential</text>
<text transform="translate(697.48 842.70) scale(0.9593 1)" font-size="60" fill="#000">at</text>
<text transform="translate(761.10 842.70) scale(0.9681 1)" font-size="60" fill="#000">branded</text>
<text transform="translate(989.05 842.70) scale(0.9819 1)" font-size="60" fill="#000">pricing</text>
<text transform="translate(1176.77 842.70) scale(0.9322 1)" font-size="60" fill="#000">is</text>
<text transform="translate(261.97 912.50) scale(0.9833 1)" font-size="60" fill="#000">higher</text>
<text transform="translate(442.22 912.50) scale(0.9401 1)" font-size="60" fill="#000">due</text>
<text transform="translate(553.60 912.50) scale(0.9734 1)" font-size="60" fill="#000">to</text>
<text transform="translate(618.60 912.50) scale(0.9525 1)" font-size="60" fill="#000">generics</text>
<text transform="translate(261.75 982.30) scale(0.9364 1)" font-size="60" fill="#000">UNCY</text>
<text transform="translate(432.82 982.30) scale(0.9456 1)" font-size="60" fill="#000">has</text>
<text transform="translate(539.57 982.30) scale(0.9765 1)" font-size="60" fill="#000">partnered</text>
<text transform="translate(807.08 982.30) scale(0.8597 1)" font-size="60" fill="#000">OLC</text>
<text transform="translate(928.03 982.30) scale(0.9916 1)" font-size="60" fill="#000">in</text>
<text transform="translate(988.48 982.30) scale(0.9054 1)" font-size="60" fill="#000">China</text>
<text transform="translate(262.67 1051.80) scale(0.9658 1)" font-size="60" fill="#000">and</text>
<text transform="translate(375.15 1051.80) scale(0.8250 1)" font-size="60" fill="#000">S</text>
<text transform="translate(423.53 1051.80) scale(0.8919 1)" font-size="60" fill="#000">Korea</text>
<text transform="translate(135.25 1135.30) scale(0.9263 1)" font-size="33.5" fill="#1c1c1c">Fortune</text>
<text transform="translate(250.60 1135.30) scale(0.8980 1)" font-size="33.5" fill="#1c1c1c">Business</text>
<text transform="translate(381.40 1135.30) scale(0.9006 1)" font-size="33.5" fill="#1c1c1c">Insights</text>
<text transform="translate(517.80 1135.30) scale(1.0000 1)" font-size="33.5" fill="#1c1c1c">,</text>
<text transform="translate(486.80 1122.00) scale(1.3305 1)" font-size="16" fill="#1c1c1c">TM</text>
<text transform="translate(533.57 1135.30) scale(0.9266 1)" font-size="33.5" fill="#1c1c1c" font-style="italic">Hyperphosphatemia</text>
<text transform="translate(820.13 1135.30) scale(0.9223 1)" font-size="33.5" fill="#1c1c1c" font-style="italic">Treatment</text>
<text transform="translate(968.78 1135.30) scale(0.9173 1)" font-size="33.5" fill="#1c1c1c" font-style="italic">Market,</text>
<text transform="translate(1078.67 1135.30) scale(0.9674 1)" font-size="33.5" fill="#1c1c1c" font-style="italic">2021-2028</text>
<text transform="translate(422.81 86.40) scale(0.9968 1)" font-size="41.5" fill="#565656">United States</text>
<text transform="translate(731.63 86.40) scale(0.9572 1)" font-size="41.5" fill="#565656">EU+UK</text>
<text transform="translate(926.00 86.40) scale(1.0136 1)" font-size="41.5" fill="#565656">Japan</text>
<text transform="translate(395.82 145.80) scale(0.9399 1)" font-size="41.5" fill="#565656">China</text>
<text transform="translate(559.26 145.80) scale(0.9804 1)" font-size="41.5" fill="#565656">ROW</text>
<text transform="translate(719.15 145.80) scale(1.0819 1)" font-size="41.5" fill="#565656">LATAM</text>
<text transform="translate(921.44 145.80) scale(0.9287 1)" font-size="41.5" fill="#565656">Canada</text>
<text transform="translate(917.61 349.20) scale(0.9441 1)" font-size="26.8" fill="#fff">1.12</text>
<text transform="translate(615.93 479.00) scale(1.0746 1)" font-size="26.8" fill="#fff">0.43</text>
<text transform="translate(420.68 395.50) scale(1.1204 1)" font-size="26.8" fill="#fff">0.29</text>
<text transform="translate(437.70 308.70) scale(1.1005 1)" font-size="26.8" fill="#fff">0.23</text>
<text transform="translate(547.30 262.10) scale(1.0985 1)" font-size="26.8" fill="#fff">0.22</text>
<text transform="translate(646.29 245.90) scale(1.0129 1)" font-size="26.8" fill="#fff">0.12</text>
</svg></body></html>
